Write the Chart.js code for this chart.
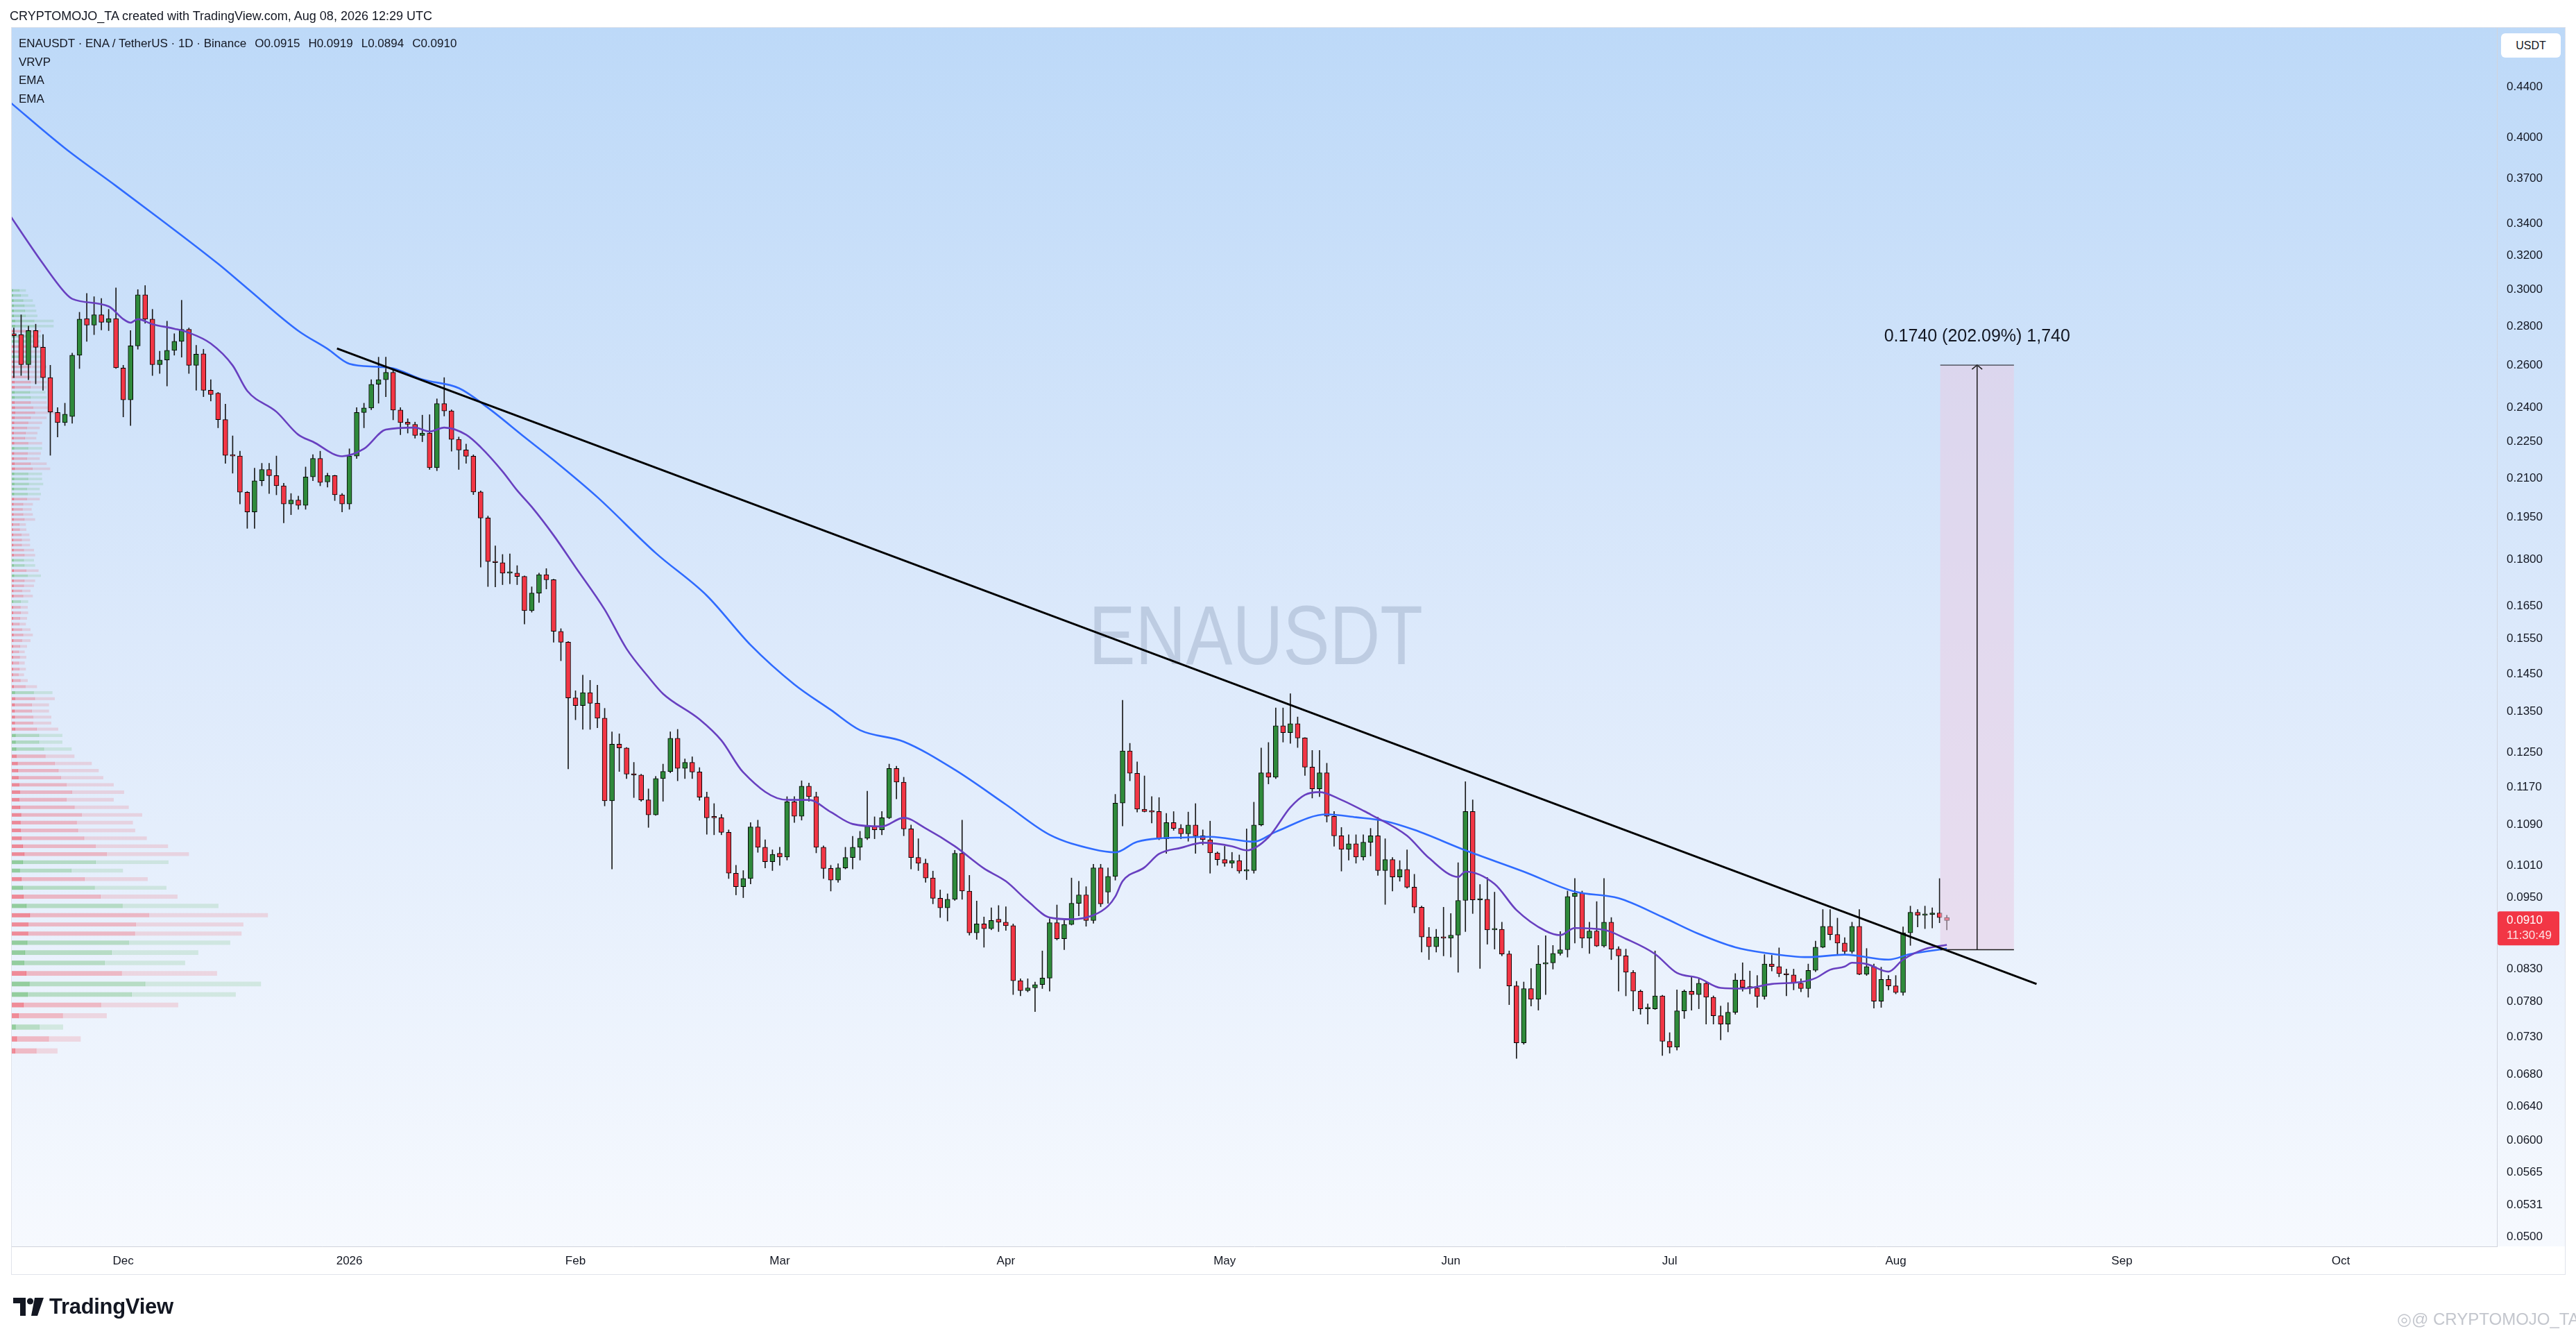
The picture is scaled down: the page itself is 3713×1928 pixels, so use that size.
<!DOCTYPE html>
<html><head><meta charset="utf-8">
<script src="https://cdn.jsdelivr.net/npm/chart.js@4.4.1/dist/chart.umd.min.js"></script>
<style>
html,body{margin:0;padding:0;background:#fff;width:3713px;height:1928px;overflow:hidden;font-family:'Liberation Sans',Arial,sans-serif;}
#frame{position:absolute;left:16px;top:39px;width:3682px;height:1798px;border:1px solid #e0e3eb;box-sizing:border-box;}
#pane{position:absolute;left:17px;top:40px;width:3681px;height:1756px;background:linear-gradient(to bottom,#bdd9f8 0%,#dce9fb 50%,#f6f9fe 100%);}
#wm{position:absolute;left:1810px;top:915px;transform:translate(-50%,-50%) scaleX(0.84);font-size:120px;line-height:1;color:rgba(100,120,150,0.25);white-space:nowrap;}
canvas{position:absolute;left:0;top:0;}
.t{position:absolute;white-space:nowrap;color:#131722;line-height:20px;}
.g{margin-left:12px;}
#usdt{position:absolute;left:3605px;top:48px;width:86px;height:35px;background:#fff;border-radius:6px;font-size:16px;line-height:35px;text-align:center;color:#131722;}
#logo{position:absolute;left:19px;top:1866px;height:34px;display:flex;align-items:center;}
#logo span{font-weight:bold;font-size:31px;color:#131722;margin-left:8px;letter-spacing:-0.3px;}
#sig{position:absolute;left:3455px;top:1887px;font-size:24px;color:#c3c6cd;white-space:nowrap;line-height:28px;}
</style></head>
<body>
<div id="pane"></div>
<div id="frame"></div>
<div id="wm">ENAUSDT</div>
<canvas id="c" width="3713" height="1928"></canvas>
<div class="t" style="left:14px;top:13px;font-size:18px;">CRYPTOMOJO_TA created with TradingView.com, Aug 08, 2026 12:29 UTC</div>
<div class="t" style="left:27px;top:53px;font-size:17px;">ENAUSDT · ENA / TetherUS · 1D · Binance<span class="g">O0.0915</span><span class="g">H0.0919</span><span class="g">L0.0894</span><span class="g">C0.0910</span></div>
<div class="t" style="left:27px;top:80px;font-size:17px;">VRVP</div>
<div class="t" style="left:27px;top:106px;font-size:17px;">EMA</div>
<div class="t" style="left:27px;top:133px;font-size:17px;">EMA</div>
<div id="usdt">USDT</div>
<div id="logo"><svg width="44" height="26" viewBox="0 0 44 26"><path d="M0 0H18V26H10V8H0Z" fill="#131722"/><circle cx="24.5" cy="5" r="4.6" fill="#131722"/><path d="M31 0H44L35 26H26Z" fill="#131722"/></svg><span>TradingView</span></div>
<div id="sig">&#9678;@ CRYPTOMOJO_TA</div>
<script>
// ---------------- DATA ----------------
const firstDate = '2025-11-16';
const opens = [
.2760,.2755,.2603,.2776,.2690,.2540,.2378,.2333,.2360,.2650,.2840,.2805,.2860,.2820,.2840,
.2586,.2435,.2697,.2970,.2837,.2603,.2626,.2674,.2720,.2783,.2600,.2657,.2480,.2466,.2346,.2193,.2190,.2045,.1970,.2090,.2135,.2110,.2070,.2000,.2015,.1995,.2105,.2180,.2085,.2110,.2035,
.2000,.2190,.2378,.2398,.2508,.2530,.2565,.2389,.2335,.2325,.2277,.2287,.2142,.2418,.2385,.2260,.2215,.2189,.2046,.1948,.1794,.1790,.1755,.1755,.1744,.1635,.1690,.1750,.1733,.1572,.1540,
.1386,.1366,.1400,.1372,.1334,.1141,.1270,.1261,.1200,.1198,.1143,.1111,.1190,.1206,.1284,.1213,.1227,.1205,.1149,.1107,.1105,.1075,.0995,.0970,.0985,.1086,.1045,.1017,
.1033,.1026,.1139,.1108,.1173,.1150,.1045,.1004,.0982,.1005,.1025,.1045,.1063,.1087,.1080,.1105,.1213,.1182,.1082,.1025,.1014,.0986,.0949,.0932,.0947,.1033,.0962,.0889,.0904,.0896,.0912,
.0907,.0901,.0812,.0797,.0801,.0806,.0816,.0906,.0879,.0903,.0940,.0955,.0910,.1005,.0960,.0989,.1136,.1254,.1202,.1123,.1118,.1118,.1062,.1095,.1083,.1072,.1090,.1068,.1060,.1034,
.1021,.1014,.1019,.0999,.1000,.1090,.1203,.1193,.1315,.1298,.1320,.1285,.1216,.1167,.1203,.1108,.1068,.1041,.1052,.1026,.1055,.1068,.1000,.1021,.0988,.1002,.0969,.0933,.0882,.0866,.0882,
.0880,.0885,.0945,.1118,.0946,.0947,.0894,.0895,.0854,.0804,.0722,.0800,.0784,.0838,.0840,.0855,.0861,.0952,.0958,.0880,.0892,.0867,.0907,.0862,.0851,.0825,.0796,.0770,.0770,.0789,
.0724,.0716,.0767,.0796,.0791,.0808,.0787,.0760,.0748,.0765,.0813,.0802,.0801,.0788,.0838,.0834,.0823,.0821,.0808,.0800,.0828,.0865,.0900,.0886,.0872,.0858,.0900,.0822,.0834,.0781,.0814,
.0804,.0794,.0889,.0924,.0919,.0920,.0923,.0915];
const highs = [
.2790,.2860,.2800,.2810,.2755,.2600,.2400,.2420,.2660,.2874,.2978,.2960,.2950,.2890,.3010,
.2600,.2776,.3000,.3023,.2890,.2670,.2826,.2760,.2940,.2790,.2700,.2680,.2530,.2470,.2416,.2275,.2210,.2048,.2140,.2160,.2160,.2190,.2080,.2040,.2030,.2145,.2196,.2210,.2120,.2112,.2040,
.2220,.2400,.2420,.2530,.2640,.2640,.2580,.2400,.2350,.2335,.2366,.2368,.2440,.2540,.2390,.2270,.2240,.2195,.2050,.1955,.1848,.1818,.1820,.1780,.1746,.1710,.1755,.1770,.1735,.1580,.1542,
.1405,.1447,.1433,.1420,.1359,.1300,.1295,.1262,.1227,.1200,.1167,.1195,.1223,.1300,.1306,.1235,.1240,.1215,.1160,.1135,.1112,.1080,.1010,.1000,.1095,.1100,.1060,.1040,
.1045,.1150,.1150,.1185,.1180,.1160,.1048,.1010,.1013,.1045,.1067,.1077,.1162,.1107,.1118,.1223,.1218,.1193,.1090,.1062,.1022,.0999,.0964,.0957,.1039,.1100,.0991,.0944,.0916,.0932,.0936,
.0934,.0904,.0815,.0815,.0810,.0859,.0913,.0937,.0910,.0986,.0980,.0970,.1012,.1012,.1005,.1155,.1380,.1272,.1228,.1196,.1150,.1148,.1114,.1118,.1091,.1117,.1135,.1080,.1098,.1036,
.1047,.1035,.1030,.1082,.1138,.1261,.1274,.1360,.1360,.1397,.1337,.1286,.1255,.1255,.1225,.1118,.1085,.1070,.1070,.1070,.1083,.1106,.1062,.1025,.1019,.1040,.0993,.0935,.0898,.0895,.0933,
.0922,.1015,.1183,.1143,.0974,.0987,.0960,.0907,.0859,.0811,.0810,.0831,.0868,.0884,.0868,.0891,.0962,.0985,.0962,.0907,.0943,.0985,.0915,.0866,.0862,.0828,.0798,.0777,.0859,.0790,
.0736,.0798,.0798,.0818,.0815,.0810,.0789,.0774,.0779,.0823,.0840,.0827,.0820,.0853,.0852,.0864,.0830,.0830,.0815,.0838,.0875,.0929,.0929,.0914,.0881,.0907,.0929,.0863,.0838,.0833,.0820,
.0820,.0899,.0935,.0929,.0935,.0932,.0985,.0919];
const lows = [
.2540,.2550,.2530,.2510,.2480,.2193,.2270,.2320,.2330,.2584,.2720,.2755,.2780,.2776,.2584,
.2358,.2320,.2680,.2815,.2550,.2560,.2500,.2650,.2640,.2560,.2480,.2450,.2430,.2310,.2160,.2120,.2000,.1910,.1910,.2070,.2040,.2035,.1930,.1960,.1980,.1980,.2090,.2070,.2065,.2013,.1970,
.1980,.2180,.2310,.2390,.2420,.2450,.2345,.2280,.2287,.2265,.2250,.2135,.2130,.2362,.2210,.2135,.2160,.2036,.1775,.1711,.1710,.1717,.1720,.1717,.1594,.1630,.1660,.1703,.1540,.1487,.1212,
.1330,.1306,.1306,.1310,.1130,.1003,.1206,.1190,.1148,.1140,.1085,.1110,.1140,.1203,.1185,.1190,.1190,.1142,.1071,.1070,.1070,.0985,.0955,.0950,.0975,.1035,.1005,.1000,
.1010,.1020,.1095,.1100,.1140,.1034,.0985,.0962,.0978,.1003,.1003,.1020,.1060,.1062,.1070,.1103,.1145,.1068,.1003,.1000,.0978,.0939,.0915,.0909,.0945,.0947,.0885,.0878,.0865,.0894,.0891,
.0893,.0791,.0789,.0795,.0766,.0800,.0796,.0877,.0861,.0902,.0918,.0900,.0905,.0934,.0940,.0982,.1088,.1185,.1117,.1117,.1094,.1060,.1033,.1079,.1062,.1057,.1033,.1050,.0995,.1010,
.1008,.1005,.0995,.0983,.0995,.1088,.1178,.1190,.1275,.1272,.1262,.1197,.1147,.1150,.1096,.1047,.0999,.1020,.1014,.1020,.1028,.0991,.0938,.0962,.0980,.0967,.0923,.0857,.0845,.0857,.0851,
.0849,.0825,.0891,.0922,.0831,.0870,.0862,.0851,.0776,.0701,.0720,.0774,.0768,.0791,.0830,.0852,.0849,.0872,.0864,.0855,.0866,.0865,.0845,.0796,.0789,.0767,.0762,.0748,.0769,.0705,
.0708,.0712,.0756,.0768,.0770,.0748,.0748,.0726,.0737,.0762,.0796,.0792,.0772,.0784,.0827,.0818,.0789,.0798,.0795,.0787,.0826,.0864,.0877,.0853,.0852,.0855,.0821,.0820,.0771,.0772,.0798,
.0792,.0790,.0868,.0899,.0896,.0897,.0906,.0894];
const closes = [
.2750,.2603,.2776,.2690,.2540,.2380,.2333,.2370,.2650,.2837,.2805,.2860,.2820,.2840,.2588,
.2435,.2697,.2970,.2837,.2603,.2626,.2674,.2720,.2783,.2600,.2655,.2480,.2460,.2346,.2193,.2190,.2045,.1970,.2090,.2135,.2110,.2070,.2000,.2015,.1995,.2105,.2180,.2083,.2110,.2035,.2000,
.2190,.2378,.2398,.2508,.2530,.2565,.2389,.2333,.2325,.2277,.2287,.2142,.2418,.2385,.2260,.2215,.2189,.2046,.1948,.1794,.1790,.1755,.1757,.1744,.1635,.1690,.1750,.1733,.1572,.1540,.1386,
.1366,.1400,.1372,.1334,.1141,.1270,.1261,.1200,.1198,.1143,.1111,.1190,.1206,.1284,.1213,.1227,.1205,.1149,.1105,.1105,.1075,.0995,.0970,.0985,.1086,.1045,.1017,.1031,
.1026,.1139,.1108,.1173,.1150,.1045,.1004,.0982,.1005,.1025,.1045,.1063,.1087,.1080,.1105,.1213,.1182,.1082,.1025,.1014,.0986,.0949,.0932,.0947,.1033,.0962,.0889,.0904,.0896,.0910,.0907,
.0901,.0812,.0797,.0801,.0806,.0816,.0906,.0879,.0903,.0940,.0955,.0910,.1005,.0939,.0989,.1136,.1254,.1202,.1123,.1118,.1117,.1062,.1095,.1083,.1072,.1090,.1068,.1060,.1034,.1021,
.1014,.1019,.0999,.1000,.1090,.1203,.1193,.1315,.1298,.1320,.1285,.1216,.1167,.1203,.1108,.1068,.1041,.1052,.1026,.1055,.1068,.1000,.1021,.0988,.1002,.0969,.0933,.0882,.0866,.0882,.0880,
.0885,.0945,.1118,.0946,.0947,.0894,.0895,.0854,.0804,.0722,.0800,.0784,.0838,.0840,.0855,.0861,.0952,.0958,.0880,.0892,.0867,.0907,.0862,.0851,.0825,.0796,.0770,.0771,.0789,.0724,
.0716,.0767,.0796,.0791,.0808,.0787,.0760,.0748,.0765,.0813,.0802,.0801,.0788,.0838,.0834,.0823,.0821,.0808,.0800,.0828,.0865,.0900,.0886,.0872,.0858,.0900,.0822,.0834,.0781,.0814,.0804,
.0794,.0889,.0924,.0919,.0920,.0923,.0915,.0910];

const emaSlowDates = ['2025-11-15','2025-11-23','2025-11-30','2025-12-06','2025-12-14','2025-12-18','2025-12-25','2025-12-29','2026-01-01','2026-01-05','2026-01-07','2026-01-11','2026-01-16','2026-01-20','2026-01-25','2026-01-29','2026-02-04','2026-02-12','2026-02-19','2026-02-25','2026-03-03','2026-03-08','2026-03-12','2026-03-18','2026-03-25','2026-04-01','2026-04-07','2026-04-13','2026-04-16','2026-04-19','2026-04-26','2026-04-29','2026-05-05','2026-05-08','2026-05-15','2026-05-19','2026-05-23','2026-05-27','2026-06-03','2026-06-11','2026-06-18','2026-06-24','2026-06-30','2026-07-05','2026-07-10','2026-07-14','2026-07-20','2026-07-25','2026-07-31','2026-08-03','2026-08-08'];
const emaSlowValues = [.430,.392,.365,.343,.315,.3007,.2775,.2682,.2607,.2592,.2585,.2531,.2490,.2399,.2270,.2173,.2026,.1823,.1682,.1532,.1422,.1355,.1304,.1276,.1210,.1133,.1070,.1041,.1035,.1056,.1065,.1066,.1056,.1076,.1112,.1106,.1098,.1080,.1039,.0998,.0961,.0949,.0916,.0887,.0865,.0856,.0849,.0853,.0845,.0854,.0863];
const emaFastDates = ['2025-11-15','2025-11-20','2025-11-23','2025-11-24','2025-11-29','2025-12-01','2025-12-02','2025-12-03','2025-12-05','2025-12-08','2025-12-10','2025-12-13','2025-12-16','2025-12-18','2025-12-22','2025-12-25','2025-12-27','2025-12-31','2026-01-03','2026-01-06','2026-01-10','2026-01-12','2026-01-14','2026-01-17','2026-01-19','2026-01-22','2026-01-24','2026-01-26','2026-01-29','2026-02-01','2026-02-05','2026-02-08','2026-02-11','2026-02-13','2026-02-18','2026-02-21','2026-02-24','2026-03-02','2026-03-05','2026-03-08','2026-03-11','2026-03-15','2026-03-18','2026-03-21','2026-03-25','2026-03-29','2026-04-01','2026-04-04','2026-04-07','2026-04-10','2026-04-13','2026-04-15','2026-04-16','2026-04-17','2026-04-20','2026-04-22','2026-04-25','2026-04-28','2026-05-02','2026-05-04','2026-05-07','2026-05-10','2026-05-12','2026-05-14','2026-05-17','2026-05-20','2026-05-21','2026-05-26','2026-05-29','2026-06-02','2026-06-03','2026-06-07','2026-06-10','2026-06-14','2026-06-16','2026-06-18','2026-06-22','2026-06-25','2026-06-29','2026-07-02','2026-07-05','2026-07-08','2026-07-11','2026-07-15','2026-07-19','2026-07-21','2026-07-23','2026-07-25','2026-07-26','2026-07-28','2026-07-31','2026-08-02','2026-08-05','2026-08-08'];
const emaFastValues = [.3485,.3150,.2983,.2948,.2906,.2837,.2818,.2837,.2810,.2786,.2765,.2709,.2599,.2477,.2381,.2280,.2250,.2189,.2220,.2302,.2311,.2294,.2311,.2280,.2227,.2127,.2052,.1989,.1885,.1775,.1638,.1521,.1442,.1397,.1331,.1279,.1204,.1143,.1143,.1117,.1092,.1087,.1105,.1083,.1047,.1004,.0980,.0944,.0915,.0912,.0919,.0935,.0952,.0980,.1006,.1032,.1044,.1054,.1047,.1039,.1065,.1127,.1154,.1160,.1143,.1120,.1112,.1068,.1024,.0988,.0998,.0975,.0928,.0892,.0885,.0897,.0894,.0879,.0854,.0824,.0816,.0801,.0800,.0807,.0810,.0816,.0829,.0834,.0840,.0838,.0826,.0845,.0862,.0869];

// trend line drawn on the chart (day offsets from 2025-12-01, price)
const trendDays = [29.3, 262.3];
const trendPrices = [0.2684, 0.0807];
// measure tool: left / arrow / right day offsets and low / high prices
const measureDays = [249.1, 254.15, 259.2];
const measurePrices = [0.0861, 0.2601];
const measureText = '0.1740 (202.09%) 1,740';
const lastPrice = 0.0910, lastPriceText = '0.0910', countdownText = '11:30:49';

// volume profile rows
const vrvpPrices = [.2988,.2960,.2931,.2903,.2875,.2848,.2820,.2793,.2766,.2740,.2713,.2687,.2661,.2636,.2611,.2586,.2561,.2537,.2512,.2488,.2464,.2441,.2417,.2394,.2371,.2349,.2326,.2304,.2281,.2260,.2238,.2217,.2195,.2174,.2153,.2133,.2112,.2092,.2072,.2053,.2033,.2014,.1994,.1975,.1956,.1938,.1919,.1901,.1882,.1864,.1846,.1829,.1811,.1794,.1776,.1759,.1742,.1726,.1709,.1693,.1677,.1658,.1641,.1624,.1607,.1589,.1573,.1558,.1540,.1524,.1508,.1494,.1476,.1459,.1445,.1428,.1412,.1396,.1380,.1364,.1348,.1333,.1318,.1303,.1287,.1271,.1254,.1237,.1220,.1204,.1188,.1172,.1156,.1139,.1123,.1107,.1091,.1075,.1059,.1043,.1028,.1012,.0996,.0980,.0964,.0948,.0931,.0915,.0899,.0884,.0869,.0852,.0836,.0819,.0803,.0787,.0772,.0756,.0740,.0723,.0707];
const vrvpVolumes = [60,70,90,100,105,110,180,180,125,125,120,125,130,140,140,150,140,145,150,150,145,150,150,170,185,150,130,120,110,105,130,130,125,120,150,165,130,130,135,120,125,120,90,85,90,100,60,62,75,78,78,95,100,95,100,115,125,100,95,80,90,70,68,70,65,60,80,90,80,65,55,62,55,60,52,68,108,175,185,160,160,170,170,200,218,218,258,270,345,375,395,440,485,440,505,563,523,533,583,675,765,677,480,587,668,716,893,1107,1001,993,944,806,749,887,1077,968,719,410,221,297,197];
const vrvpSides = 'uuuuuuuuduuddudddddduudddddddddudddduuuuudddddddddddduududdddudddddddddddddddudddddduuudddddddddddddduudududdduuuduuddudduuudd';

const tickDates = ['2025-12-01','2026-01-01','2026-02-01','2026-03-01','2026-04-01','2026-05-01','2026-06-01','2026-07-01','2026-08-01','2026-09-01','2026-10-01'];
const tickLabels = ['Dec','2026','Feb','Mar','Apr','May','Jun','Jul','Aug','Sep','Oct'];
const priceTicks = [0.0500,0.0531,0.0565,0.0600,0.0640,0.0680,0.0730,0.0780,0.0830,0.0950,0.1010,0.1090,0.1170,0.1250,0.1350,0.1450,0.1550,0.1650,0.1800,0.1950,0.2100,0.2250,0.2400,0.2600,0.2800,0.3000,0.3200,0.3400,0.3700,0.4000,0.4400];

// visible ranges
const xMin = -15.28, xMax = 325.41;   // days from 2025-12-01
const yMin = 0.04913, yMax = 0.4922;
const vrvpAxisMax = 10750;

// ---------------- BUILD ----------------
const BASE = Date.UTC(2025, 11, 1);
const dayOf = s => { const [y,m,d] = s.split('-').map(Number); return (Date.UTC(y, m-1, d) - BASE) / 864e5; };
const d0 = dayOf(firstDate);
const candleDays = opens.map((_, i) => d0 + i);
const UP = '#2f8a3b', DOWN = '#f23645';
const bodyColors = opens.map((o, i) => closes[i] >= o ? UP : DOWN);

const wickData = candleDays.map((d, i) => ({x: d, y: [lows[i], highs[i]]}));
const bodyData = candleDays.map((d, i) => ({x: d, y: [opens[i], closes[i]]}));
const emaSlow = emaSlowDates.map((s, i) => ({x: dayOf(s), y: emaSlowValues[i]}));
const emaFast = emaFastDates.map((s, i) => ({x: dayOf(s), y: emaFastValues[i]}));
const trend = trendDays.map((d, i) => ({x: d, y: trendPrices[i]}));

const [mL, mC, mR] = measureDays; const [mLo, mHi] = measurePrices;
const boxShape = [{x:mL,y:mLo},{x:mL,y:mHi},{x:mR,y:mHi},{x:mR,y:mLo},{x:mL,y:mLo}];

// volume profile: each row split into a dark core and two lighter parts, stacked along the volume axis
const vSeg = f => vrvpPrices.map((p, i) => ({y: p, x: vrvpVolumes[i] * f}));
const vCol = (ua, da) => vrvpPrices.map((p, i) => vrvpSides[i] === 'u' ? `rgba(76,175,80,${ua})` : `rgba(242,54,69,${da})`);
const vBase = {type:'bar', indexAxis:'y', xAxisID:'xv', yAxisID:'y', stack:'vp', grouped:true, barThickness:'flex', categoryPercentage:1, barPercentage:0.8, borderWidth:0, borderSkipped:false, order:20};

const tickDays = tickDates.map(dayOf);
const labelFor = {}; tickDays.forEach((d, i) => labelFor[d] = tickLabels[i]);

const overlay = {
  id: 'overlay',
  afterDatasetsDraw(chart) {
    const {ctx, scales: {x, y}} = chart;
    ctx.save();
    ctx.font = '25px "Liberation Sans"';
    ctx.fillStyle = '#131722';
    ctx.textAlign = 'center'; ctx.textBaseline = 'middle';
    ctx.fillText(measureText, x.getPixelForValue(mC), y.getPixelForValue(mHi) - 41);
    ctx.restore();
  },
  afterDraw(chart) {
    const {ctx, scales: {y}} = chart;
    const p = y.getPixelForValue(lastPrice);
    ctx.save();
    ctx.fillStyle = '#f23645';
    ctx.beginPath();
    ctx.roundRect(y.left + 1, p - 13, 89, 49, 3);
    ctx.fill();
    ctx.font = '17px "Liberation Sans"';
    ctx.textAlign = 'left'; ctx.textBaseline = 'middle';
    ctx.fillStyle = '#ffffff';
    ctx.fillText(lastPriceText, y.left + 14, p);
    ctx.fillStyle = 'rgba(255,255,255,0.85)';
    ctx.fillText(countdownText, y.left + 14, p + 22);
    ctx.restore();
  }
};

Chart.defaults.font.family = '"Liberation Sans", Arial, sans-serif';
new Chart(document.getElementById('c'), {
  type: 'bar',
  data: { datasets: [
    Object.assign({}, vBase, {data: vSeg(0.07), backgroundColor: vCol(0.55, 0.55)}),
    Object.assign({}, vBase, {data: vSeg(0.465), backgroundColor: vCol(0.32, 0.3)}),
    Object.assign({}, vBase, {data: vSeg(0.465), backgroundColor: vCol(0.16, 0.15)}),
    {type:'bar', data: wickData, xAxisID:'x', yAxisID:'y', grouped:false, barThickness:1, backgroundColor:'#1a1a1a', borderWidth:0, order:9},
    {type:'bar', data: bodyData, xAxisID:'x', yAxisID:'y', grouped:false, barThickness:7, minBarLength:2, backgroundColor: bodyColors, borderColor:'#000', borderWidth:1, borderSkipped:false, order:8},
    {type:'line', data: boxShape, xAxisID:'x', yAxisID:'y', fill:'shape', backgroundColor:'rgba(232,204,226,0.52)', borderWidth:0, pointRadius:0, tension:0, order:7},
    {type:'line', data: emaSlow, xAxisID:'x', yAxisID:'y', borderColor:'#2f6bff', borderWidth:2.6, pointRadius:0, cubicInterpolationMode:'monotone', fill:false, order:6},
    {type:'line', data: emaFast, xAxisID:'x', yAxisID:'y', borderColor:'#6840c0', borderWidth:2.6, pointRadius:0, cubicInterpolationMode:'monotone', fill:false, order:5},
    {type:'line', data: trend, xAxisID:'x', yAxisID:'y', borderColor:'#000', borderWidth:3, pointRadius:0, fill:false, order:4},
    {type:'line', data: [{x:mL,y:mHi},{x:mR,y:mHi}], xAxisID:'x', yAxisID:'y', borderColor:'#3a3d46', borderWidth:1.2, pointRadius:0, fill:false, order:3},
    {type:'line', data: [{x:mL,y:mLo},{x:mR,y:mLo}], xAxisID:'x', yAxisID:'y', borderColor:'#1a1a1a', borderWidth:1.5, pointRadius:0, fill:false, order:3},
    {type:'line', data: [{x:mC,y:mLo},{x:mC,y:mHi}], xAxisID:'x', yAxisID:'y', borderColor:'#1a1a1a', borderWidth:1.5, pointRadius:0, fill:false, order:3},
    {type:'line', data: [{x:mC-0.7,y:mHi*0.992},{x:mC,y:mHi},{x:mC+0.7,y:mHi*0.992}], xAxisID:'x', yAxisID:'y', borderColor:'#1a1a1a', borderWidth:1.5, pointRadius:0, fill:false, order:3}
  ]},
  options: {
    responsive: false, animation: false, devicePixelRatio: 1, events: [],
    layout: { padding: { left: 17, top: 40, right: 15, bottom: 91 } },
    plugins: { legend: {display:false}, tooltip: {enabled:false} },
    scales: {
      x: {
        type:'linear', axis:'x', position:'bottom', min:xMin, max:xMax, offset:false, bounds:'data',
        grid:{display:false, drawTicks:false},
        border:{display:true, color:'#d1d4dc'},
        afterBuildTicks: s => { s.ticks = tickDays.map(v => ({value:v})); },
        afterFit: s => { s.height = 41; },
        ticks:{ autoSkip:false, maxRotation:0, padding:11, color:'#131722', font:{size:17}, callback: v => labelFor[v] ?? '' }
      },
      y: {
        type:'logarithmic', axis:'y', position:'right', min:yMin, max:yMax, offset:false, bounds:'data', beginAtZero:false,
        grid:{display:false, drawTicks:false},
        border:{display:true, color:'#d1d4dc'},
        afterBuildTicks: s => { s.ticks = priceTicks.map(v => ({value:v})); },
        afterFit: s => { s.width = 99; },
        ticks:{ autoSkip:false, padding:14, color:'#131722', font:{size:17}, callback: v => Number(v).toFixed(4) }
      },
      xv: { type:'linear', axis:'x', display:false, min:0, max:vrvpAxisMax, offset:false, bounds:'data', stacked:true }
    }
  },
  plugins: [overlay]
});
</script>
</body></html>
